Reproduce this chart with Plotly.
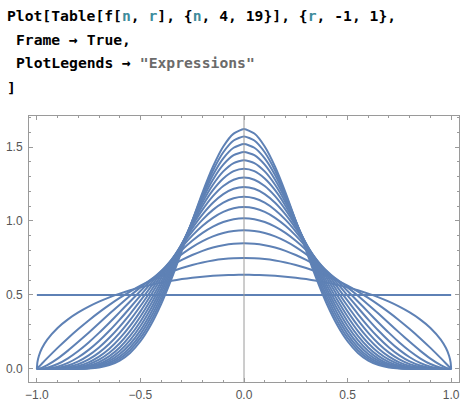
import plotly.graph_objects as go

# r grid (right half, r >= 0); the curves are symmetric in r
r_half = [0.0, 0.05, 0.1, 0.15, 0.2, 0.25, 0.3, 0.35, 0.4, 0.45, 0.5, 0.55, 0.6,
          0.65, 0.7, 0.75, 0.8, 0.85, 0.9, 0.95, 0.975, 0.99, 0.9975, 1.0]

# values for n = 4 .. 19 (right half)
f4 = [0.5] * 24
f5 = [0.6366, 0.6358, 0.6334, 0.6294, 0.6238, 0.6164, 0.6073, 0.5964, 0.5835, 0.5685, 0.5513, 0.5317,
      0.5093, 0.4838, 0.4546, 0.4211, 0.3820, 0.3354, 0.2775, 0.1988, 0.1415, 0.0898, 0.0450, 0.0]
f6 = [0.75, 0.7481, 0.7425, 0.7331, 0.72, 0.7031, 0.6825, 0.6581, 0.63, 0.5981, 0.5625, 0.5231,
      0.48, 0.4331, 0.3825, 0.3281, 0.27, 0.2081, 0.1425, 0.0731, 0.0370, 0.0149, 0.0037, 0.0]
f7 = [0.8488, 0.8457, 0.8361, 0.8203, 0.7984, 0.7705, 0.7369, 0.6977, 0.6535, 0.6045, 0.5513, 0.4945,
      0.4346, 0.3725, 0.3092, 0.2456, 0.1834, 0.1241, 0.0703, 0.0258, 0.0093, 0.0024, 0.0003, 0.0]
f8 = [0.9375, 0.9328, 0.9188, 0.8958, 0.864, 0.8240, 0.7763, 0.7219, 0.6615, 0.5963, 0.5273, 0.4561,
      0.384, 0.3127, 0.2438, 0.1794, 0.1215, 0.0722, 0.0338, 0.0089, 0.0023, 0.0004, 0.0, 0.0]
f9 = [1.0186, 1.0122, 0.9933, 0.9623, 0.9198, 0.8668, 0.8046, 0.7347, 0.6587, 0.5785, 0.4962, 0.4139,
      0.3338, 0.2582, 0.1892, 0.1290, 0.0792, 0.0413, 0.0160, 0.0030, 0.0006, 0.0, 0.0, 0.0]
f10 = [1.0938, 1.0856, 1.0613, 1.0216, 0.9677, 0.9012, 0.8242, 0.7390, 0.6483, 0.5548, 0.4614, 0.3712,
       0.2867, 0.2107, 0.1451, 0.0916, 0.0510, 0.0234, 0.0075, 0.0010, 0.0001, 0.0, 0.0, 0.0]
f11 = [1.1642, 1.1540, 1.1239, 1.0750, 1.0092, 0.9288, 0.8369, 0.7368, 0.6324, 0.5273, 0.4253, 0.3299,
       0.2441, 0.1704, 0.1103, 0.0645, 0.0326, 0.0131, 0.0035, 0.0003, 0.0, 0.0, 0.0, 0.0]
f12 = [1.2305, 1.2182, 1.1820, 1.1234, 1.0451, 0.9505, 0.8438, 0.7296, 0.6126, 0.4977, 0.3893, 0.2912,
       0.2064, 0.1369, 0.0832, 0.0451, 0.0207, 0.0073, 0.0016, 0.0001, 0.0, 0.0, 0.0, 0.0]
f13 = [1.2935, 1.2790, 1.2363, 1.1676, 1.0764, 0.9675, 0.8462, 0.7184, 0.5902, 0.4673, 0.3544, 0.2557,
       0.1736, 0.1093, 0.0625, 0.0313, 0.0130, 0.0040, 0.0007, 0.0, 0.0, 0.0, 0.0, 0.0]
f14 = [1.3535, 1.3367, 1.2872, 1.2080, 1.1036, 0.9802, 0.8446, 0.7042, 0.5661, 0.4366, 0.3212, 0.2235,
       0.1453, 0.0869, 0.0467, 0.0217, 0.0082, 0.0022, 0.0003, 0.0, 0.0, 0.0, 0.0, 0.0]
f15 = [1.4110, 1.3917, 1.3351, 1.2450, 1.1273, 0.9894, 0.8400, 0.6877, 0.5408, 0.4065, 0.2900, 0.1946,
       0.1212, 0.0689, 0.0348, 0.0150, 0.0051, 0.0012, 0.0002, 0.0, 0.0, 0.0, 0.0, 0.0]
f16 = [1.4663, 1.4445, 1.3805, 1.2792, 1.1478, 0.9955, 0.8327, 0.6694, 0.5151, 0.3772, 0.2610, 0.1689,
       0.1008, 0.0544, 0.0258, 0.0103, 0.0032, 0.0007, 0.0001, 0.0, 0.0, 0.0, 0.0, 0.0]
f17 = [1.5196, 1.4951, 1.4235, 1.3106, 1.1654, 0.9989, 0.8232, 0.6499, 0.4893, 0.3491, 0.2342, 0.1461,
       0.0835, 0.0428, 0.0191, 0.0071, 0.0020, 0.0004, 0.0, 0.0, 0.0, 0.0, 0.0, 0.0]
f18 = [1.5710, 1.5438, 1.4643, 1.3397, 1.1806, 1.0000, 0.8119, 0.6294, 0.4636, 0.3223, 0.2097, 0.1262,
       0.0691, 0.0337, 0.0141, 0.0048, 0.0012, 0.0002, 0.0, 0.0, 0.0, 0.0, 0.0, 0.0]
f19 = [1.6209, 1.5907, 1.5032, 1.3666, 1.1934, 0.9989, 0.7990, 0.6083, 0.4384, 0.2970, 0.1874, 0.1087,
       0.0570, 0.0264, 0.0104, 0.0033, 0.0008, 0.0001, 0.0, 0.0, 0.0, 0.0, 0.0, 0.0]

series = [f4, f5, f6, f7, f8, f9, f10, f11, f12, f13, f14, f15, f16, f17, f18, f19]

LINE = "#5E81B5"
FRAME = "#9a9a9a"
TICKFONT = dict(family="Liberation Sans, Arial, sans-serif", size=12, color="#555555")

x_full = [-r for r in reversed(r_half[1:])] + r_half

fig = go.Figure()
for ys in series:
    y_full = list(reversed(ys[1:])) + ys
    fig.add_trace(go.Scatter(x=x_full, y=y_full, mode="lines",
                             line=dict(color=LINE, width=2, shape="spline", smoothing=0.6),
                             hoverinfo="skip", showlegend=False))

# vertical axis line at x = 0 drawn above the curves
fig.add_shape(type="line", xref="x", yref="paper", x0=0, x1=0, y0=0, y1=1,
              line=dict(color=FRAME, width=1), layer="above")

W, H = 474, 409
L, R, T, B = 29, 15, 116, 27
pw, ph = W - L - R, H - T - B

def px_to_paper_x(px):
    return (px - L) / pw

def px_to_paper_y(py):
    return (H - B - py) / ph

code_font = dict(family="DejaVu Sans Mono, monospace", size=14.7, color="#000000")
TEAL = "#3d8c9c"
GRAY = "#6b6b6b"
lines = [
    (6, 15, "<b>Plot[Table[f[<span style='color:%s'>n</span>, <span style='color:%s'>r</span>], "
            "{<span style='color:%s'>n</span>, 4, 19}], {<span style='color:%s'>r</span>, -1, 1},</b>"
            % (TEAL, TEAL, TEAL, TEAL)),
    (15, 39, "<b>Frame → True,</b>"),
    (15, 63, "<b>PlotLegends → <span style='color:%s'>\"Expressions\"</span></b>" % GRAY),
    (6, 88, "<b>]</b>"),
]
for px, py, txt in lines:
    fig.add_annotation(text=txt, xref="paper", yref="paper",
                       x=px_to_paper_x(px), y=px_to_paper_y(py),
                       xanchor="left", yanchor="middle", showarrow=False,
                       align="left", font=code_font, borderpad=0)

axis_common = dict(showline=True, linecolor=FRAME, linewidth=1, mirror="ticks",
                   ticks="inside", ticklen=4, tickcolor=FRAME, tickwidth=1,
                   showgrid=False, zeroline=False, tickfont=TICKFONT, automargin=False,
                   tickformat=".1f", tickmode="linear", tick0=0, dtick=0.5,
                   minor=dict(ticks="inside", ticklen=2, tickcolor=FRAME,
                              tickmode="linear", tick0=0, dtick=0.1, showgrid=False))

fig.update_layout(
    width=W, height=H,
    margin=dict(l=L, r=R, t=T, b=B),
    paper_bgcolor="white", plot_bgcolor="white",
    showlegend=False,
    xaxis=dict(range=[-1.038, 1.038], ticklabelstandoff=2, **axis_common),
    yaxis=dict(range=[-0.088, 1.7095], ticklabelstandoff=3, **axis_common),
)

fig.write_html("out.html",
               config={"displayModeBar": False},
               post_script="document.body.style.margin='0';document.body.style.padding='0';"
                           "document.body.style.overflow='hidden';")
